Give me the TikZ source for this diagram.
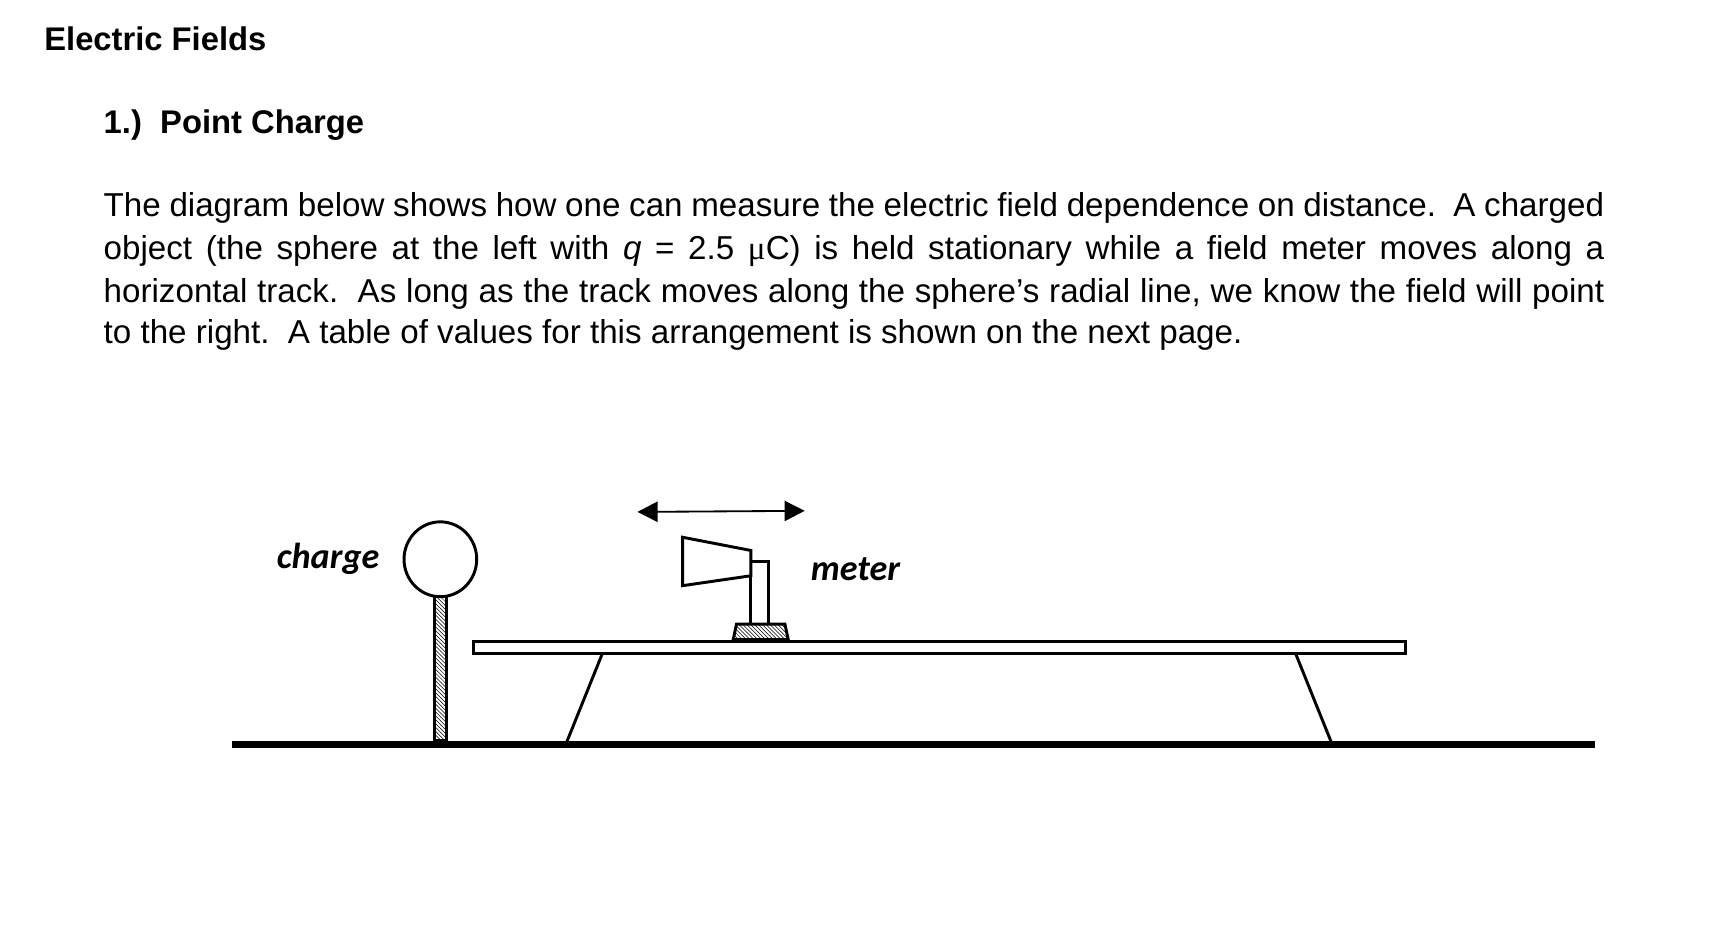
\documentclass[tikz,border=0pt]{standalone}
\usepackage{fontspec}
\setmainfont{Liberation Sans}
\newfontfamily\calib{Carlito}
\newfontfamily\serifmu{Liberation Serif}
\usetikzlibrary{patterns,arrows.meta}
\begin{document}
\begin{tikzpicture}[x=0.3mm,y=-0.3mm,
  txt/.style={anchor=base west,inner sep=0,font=\fontsize{25.7pt}{30pt}\selectfont},
  lbl/.style={inner sep=0,font=\calib\bfseries\itshape\fontsize{28pt}{32pt}\selectfont},
  thk/.style={line width=0.8mm}]
\useasboundingbox (0,0) rectangle (1566,852);
\node[txt,font=\bfseries\fontsize{25.4pt}{30pt}\selectfont] (t1) at (40,46) {Electric Fields};
\node[txt,font=\bfseries\fontsize{25.4pt}{30pt}\selectfont] (t2) at (94,121) {1.)\ \ Point Charge};
\node[txt] (p1) at (94,197) {\makebox[408.9mm][s]{The diagram below shows how one can measure the electric field dependence on distance.\ \ A charged}};
\node[txt] (p2) at (94,236) {\makebox[408.9mm][s]{object (the sphere at the left with \textit{q} = 2.5 {\serifmu μ}C) is held stationary while a field meter moves along a}};
\node[txt] (p3) at (94,275) {\makebox[408.9mm][s]{horizontal track.\ \ As long as the track moves along the sphere’s radial line, we know the field will point}};
\node[txt] (p4) at (94,312) {to the right.\ \ A table of values for this arrangement is shown on the next page.};
% ground
\draw[line width=1.8mm] (211,676) coordinate (g1) -- (1449,676) coordinate (g2);
% post
\draw[thk,pattern=north west lines] (395,541) rectangle (406,673);
\draw[thk,fill=white] (400,508) ellipse (33 and 34);
\node[lbl] (charge) at (298,508) {charge};
% track
\draw[thk,fill=white] (430,583) rectangle (1277,594);
\draw[thk] (547,594) -- (514,676);
\draw[thk] (1177,594) -- (1210,676);
% meter
\draw[thk,pattern=north west lines] (666,581) -- (669,567) -- (713,567) -- (716,581) -- cycle;
\draw[thk] (682,566) -- (682,510) -- (698,510) -- (698,566);
\draw[thk,fill=white] (620,488) -- (682,500) -- (682,523) -- (620,532) -- cycle;
\node[lbl] (meter) at (777,517) {meter};
\draw[line width=0.5mm,{Triangle[length=5.5mm,width=5.5mm]}-{Triangle[length=5.5mm,width=5.5mm]}] (579,465) -- (731,464);
\end{tikzpicture}
\end{document}
